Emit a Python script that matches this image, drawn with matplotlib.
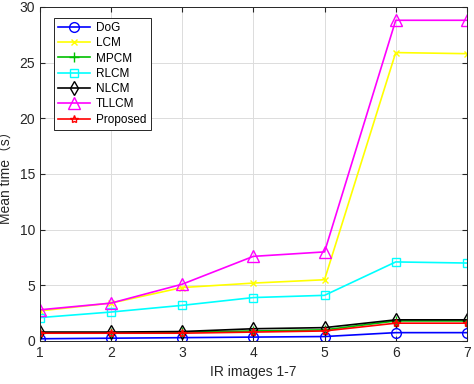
import matplotlib

matplotlib.use("Agg")
import matplotlib.pyplot as plt

images = [1, 2, 3, 4, 5, 6, 7]
dog = [0.2, 0.25, 0.3, 0.35, 0.4, 0.75, 0.75]
lcm = [2.7, 3.4, 4.8, 5.2, 5.5, 25.9, 25.8]
mpcm = [0.75, 0.75, 0.8, 0.9, 1.0, 1.8, 1.8]
rlcm = [2.1, 2.6, 3.2, 3.9, 4.1, 7.1, 7.0]
nlcm = [0.8, 0.8, 0.85, 1.1, 1.2, 1.9, 1.9]
tllcm = [2.8, 3.4, 5.1, 7.6, 8.0, 28.8, 28.8]
proposed = [0.7, 0.7, 0.7, 0.8, 0.9, 1.6, 1.6]

plt.rcParams["font.family"] = ["Liberation Sans", "Noto Sans CJK SC"]

fig = plt.figure(figsize=(4.74, 3.84), dpi=100)
ax = fig.add_axes([0.084, 0.112, 0.901, 0.870])

series = [
    ("DoG", dog, "blue", "o", 7),
    ("LCM", lcm, "yellow", "x", 5),
    ("MPCM", mpcm, "#00c000", "+", 7),
    ("RLCM", rlcm, "cyan", "s", 6),
    ("NLCM", nlcm, "black", "d", 7),
    ("TLLCM", tllcm, "magenta", "^", 8),
    ("Proposed", proposed, "red", "*", 6),
]
for name, values, color, marker, size in series:
    ax.plot(images, values, color=color, marker=marker, markersize=size,
            markerfacecolor="none", markeredgewidth=1.0, linewidth=1.2, label=name)

ax.set_xlim(1, 7)
ax.set_ylim(0, 30)
ax.set_xticks(images)
ax.set_yticks([0, 5, 10, 15, 20, 25, 30])
ax.grid(True, color="#dcdcdc", linewidth=0.7)
ax.tick_params(direction="in", top=True, right=True, labelsize=10, colors="#262626")
for spine in ax.spines.values():
    spine.set_color("#262626")
    spine.set_linewidth(0.7)
ax.set_xlabel("IR images 1-7", fontsize=10, color="#262626")
ax.set_ylabel("Mean time（s）", fontsize=10, color="#262626")

leg = ax.legend(loc="upper left", bbox_to_anchor=(0.02, 0.985), fontsize=8.5,
                fancybox=False, framealpha=1, edgecolor="#262626",
                handlelength=2.7, handletextpad=0.5, labelspacing=0.28, borderpad=0.35)
leg.get_frame().set_linewidth(0.7)

fig.savefig("out.png", dpi=100)
